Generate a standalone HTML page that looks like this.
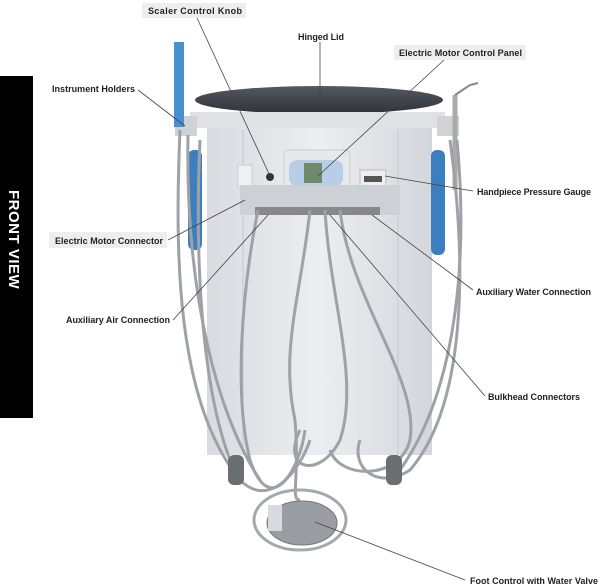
<!DOCTYPE html>
<html><head><style>
body{margin:0;background:#fff;width:600px;height:587px;overflow:hidden;font-family:"Liberation Sans",sans-serif}
svg{position:absolute;left:0;top:0}
.l{font-size:9px;font-weight:bold;fill:#222}
</style></head><body>
<svg width="600" height="587" viewBox="0 0 600 587">
<defs>
<linearGradient id="body" x1="0" x2="1"><stop offset="0" stop-color="#d8dbe0"/><stop offset=".5" stop-color="#eceef1"/><stop offset="1" stop-color="#d3d6db"/></linearGradient>
<linearGradient id="lid" x1="0" y1="0" x2="0" y2="1"><stop offset="0" stop-color="#555a61"/><stop offset="1" stop-color="#2e3237"/></linearGradient>
</defs>
<rect x="0" y="76" width="33" height="342" fill="#000"/>
<text transform="translate(9,190) rotate(90)" fill="#fff" font-size="15" font-weight="bold" letter-spacing="0.5">FRONT  VIEW</text>
<rect x="207" y="125" width="225" height="330" fill="url(#body)"/>
<line x1="243" y1="130" x2="243" y2="455" stroke="#c3c7cc"/>
<line x1="398" y1="130" x2="398" y2="455" stroke="#c3c7cc"/>
<rect x="188" y="150" width="14" height="100" rx="6" fill="#3c7fc0"/>
<rect x="431" y="150" width="14" height="105" rx="6" fill="#3c7fc0"/>
<ellipse cx="319" cy="100" rx="124" ry="14" fill="url(#lid)"/>
<rect x="190" y="112" width="255" height="16" fill="#dfe1e4"/>
<rect x="175" y="116" width="22" height="20" fill="#cfd2d6"/>
<rect x="437" y="116" width="22" height="20" fill="#cfd2d6"/>
<rect x="174" y="42" width="10" height="85" fill="#4a8fd0"/>
<line x1="455" y1="95" x2="455" y2="190" stroke="#aaa" stroke-width="5"/>
<path d="M455 95 L470 85 L478 83" stroke="#888" stroke-width="2" fill="none"/>
<rect x="284" y="150" width="66" height="42" rx="4" fill="#e6e8eb" stroke="#ccc"/>
<rect x="289" y="160" width="54" height="26" rx="8" fill="#b8cde6"/>
<rect x="304" y="163" width="18" height="20" fill="#6f8a6b"/>
<rect x="360" y="170" width="26" height="18" fill="#eee" stroke="#bbb"/>
<rect x="364" y="176" width="18" height="6" fill="#555"/>
<circle cx="270" cy="177" r="4" fill="#333"/>
<rect x="238" y="165" width="14" height="22" fill="#f0f1f3" stroke="#ccc"/>
<rect x="240" y="185" width="160" height="30" fill="#cdd0d4"/>
<rect x="255" y="207" width="125" height="8" fill="#888"/>
<g stroke="#9ea2a7" stroke-width="3" fill="none">
<path d="M180 130 C175 250 175 400 240 480 C270 510 300 470 310 440"/>
<path d="M188 135 C185 300 220 420 260 480"/>
<path d="M258 210 C240 300 235 400 250 460 C270 520 300 470 305 430"/>
<path d="M310 210 C300 300 280 350 295 420 C300 480 290 500 300 500"/>
<path d="M325 210 C330 300 360 380 340 440 C320 480 280 470 300 430"/>
<path d="M340 210 C350 300 420 380 410 440 C400 480 340 480 330 450"/>
<path d="M450 140 C465 250 470 400 410 470 C380 490 350 470 360 440"/>
<path d="M457 140 C470 280 450 400 400 470"/>
<path d="M200 140 C195 250 200 380 230 460"/>
</g>
<rect x="228" y="455" width="16" height="30" rx="6" fill="#6a6d71"/>
<rect x="386" y="455" width="16" height="30" rx="6" fill="#6a6d71"/>
<ellipse cx="300" cy="520" rx="46" ry="30" fill="none" stroke="#a5a9ae" stroke-width="3"/>
<ellipse cx="302" cy="523" rx="35" ry="22" fill="#9a9ea4" stroke="#777"/>
<rect x="268" y="505" width="14" height="26" fill="#d8dadd"/>
<rect x="142" y="3" width="104" height="15" fill="#eeeeee"/>
<text class="l" x="148" y="14" textLength="94">Scaler Control Knob</text>
<text class="l" x="298" y="40" textLength="46">Hinged Lid</text>
<rect x="394" y="45" width="132" height="15" fill="#eeeeee"/>
<text class="l" x="399" y="56" textLength="123">Electric Motor Control Panel</text>
<text class="l" x="52" y="92" textLength="83">Instrument Holders</text>
<text class="l" x="477" y="195" textLength="114">Handpiece Pressure Gauge</text>
<rect x="49" y="232" width="118" height="16" fill="#eeeeee"/>
<text class="l" x="55" y="244" textLength="108">Electric Motor Connector</text>
<text class="l" x="476" y="295" textLength="115">Auxiliary Water Connection</text>
<text class="l" x="66" y="323" textLength="104">Auxiliary Air Connection</text>
<text class="l" x="488" y="400" textLength="92">Bulkhead Connectors</text>
<text class="l" x="470" y="584" textLength="128">Foot Control with Water Valve</text>
<g stroke="#444" stroke-width="0.8">
<line x1="197" y1="18" x2="270" y2="176"/>
<line x1="320" y1="42" x2="320" y2="100"/>
<line x1="444" y1="60" x2="318" y2="176"/>
<line x1="138" y1="90" x2="185" y2="126"/>
<line x1="473" y1="191" x2="385" y2="176"/>
<line x1="168" y1="240" x2="245" y2="200"/>
<line x1="173" y1="320" x2="268" y2="215"/>
<line x1="473" y1="290" x2="372" y2="215"/>
<line x1="485" y1="396" x2="330" y2="215"/>
<line x1="465" y1="580" x2="315" y2="522"/>
</g>
</svg>
</body></html>
